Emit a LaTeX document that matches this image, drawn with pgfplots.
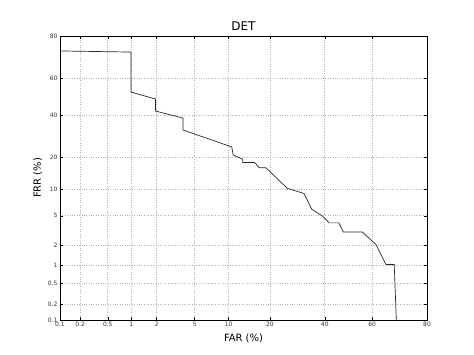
\documentclass[border=0pt]{standalone}
\usepackage{pgfplots}
\pgfplotsset{compat=1.18}
\usepackage{fontspec}
\setmainfont{DejaVu Sans}
\begin{document}
\begin{tikzpicture}[declare function={
  pz(\q)=sqrt(-2*ln(\q));
  prz(\t)=\t-(2.515517+0.802853*\t+0.010328*\t*\t)/(1+1.432788*\t+0.189269*\t*\t+0.001308*\t*\t*\t);
  probit(\p)=(\p<0.5)?(-prz(pz(\p))):(prz(pz(1-\p)));
}]
\useasboundingbox (-60bp,-35bp) rectangle (414bp,320bp);
\begin{axis}[
  scale only axis, width=367bp, height=284bp,
  x coord trafo/.code={\pgfmathparse{probit(#1/100)}},
  y coord trafo/.code={\pgfmathparse{probit(#1/100)}},
  xmin=0.1, xmax=80, ymin=0.1, ymax=80,
  xtick={0.1,0.2,0.5,1,2,5,10,20,40,60,80},
  xticklabels={0.1,0.2,0.5,1,2,5,10,20,40,60,80},
  ytick={0.1,0.2,0.5,1,2,5,10,20,40,60,80},
  yticklabels={0.1,0.2,0.5,1,2,5,10,20,40,60,80},
  grid=major,
  major grid style={dotted, gray!60, line width=0.6pt},
  tick align=inside, major tick length=3pt,
  tick style={black, line width=0.4pt},
  axis line style={line width=0.6pt},
  ticklabel style={font=\fontsize{6}{7}\selectfont, text=black!80},
  xticklabel style={yshift=1pt},
  yticklabel style={xshift=1pt},
  xlabel={FAR (\%)}, ylabel={FRR (\%)},
  label style={font=\fontsize{10}{11}\selectfont},
  xlabel style={yshift=0pt},
  ylabel style={yshift=-1pt},
  title={DET}, title style={font=\fontsize{12}{14}\selectfont, yshift=-4pt},
]
\addplot[black!85, line width=0.7pt] coordinates {
(0.1,73.7) (1.0,73.2) (1.0,52.6) (1.95,48.8) (1.95,42.2) (3.85,38.4) (3.85,32.3)
(10.6,24.4) (10.9,21.0) (12.9,19.4) (12.9,18.2) (15.8,18.2) (17.0,16.3) (18.9,16.3)
(25.6,10.3) (31.7,9.07) (34.7,6.02) (39.1,4.95) (41.8,4.07) (45.9,4.07) (47.8,3.09)
(55.9,3.09) (61.6,2.06) (65.6,1.02) (68.8,1.02) (69.6,0.1)
};
\end{axis}
\end{tikzpicture}
\end{document}
